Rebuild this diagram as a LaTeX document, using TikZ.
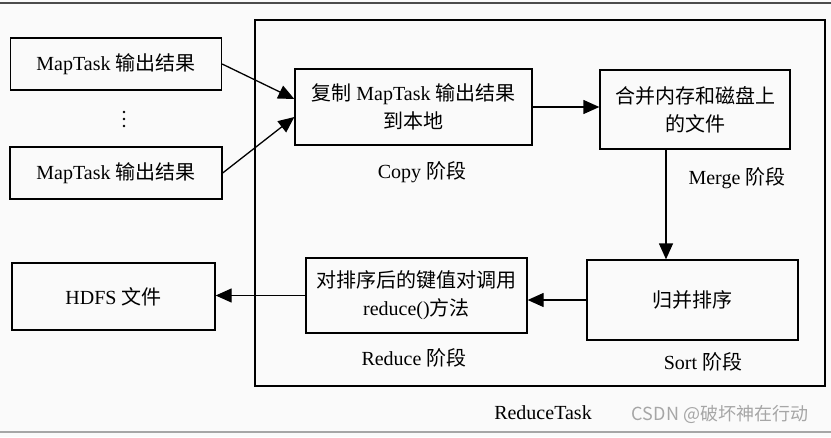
\documentclass[tikz,border=0pt]{standalone}
\usepackage{fontspec}
\setmainfont{Liberation Serif}
\newfontfamily\cjk{Noto Sans CJK SC}
\usetikzlibrary{arrows.meta}
\begin{document}
\begin{tikzpicture}[x=1pt,y=-1pt,
  box/.style={draw, line width=1.3pt, inner sep=0pt, align=center, font=\fontsize{20}{28}\selectfont},
  lbl/.style={font=\fontsize{20}{24}\selectfont, inner sep=0pt},
  arr/.style={line width=1.3pt, -{Triangle[length=16pt,width=14pt]}}]
\useasboundingbox (0,0) rectangle (831,437);
\fill[gray!4] (0,0) rectangle (831,437);
\draw[gray!60!black, line width=2pt] (0,3) -- (831,3);
\draw[gray!70, line width=1.5pt] (0,432) -- (831,432);
% outer ReduceTask box
\node[draw, line width=1.3pt, minimum width=570pt, minimum height=366pt, inner sep=0pt] (rt) at (540,203) {};
% nodes
\node[box, minimum width=211pt, minimum height=52pt] (m1) at (116,64) {MapTask {\cjk 输出结果}};
\node[box, minimum width=212pt, minimum height=52pt] (m2) at (116,173) {MapTask {\cjk 输出结果}};
\foreach \yy in {112,119,126} \fill (124,\yy) circle (1.3pt);
\node[box, minimum width=237pt, minimum height=76pt] (copy) at (413.5,107) {{\cjk 复制} MapTask {\cjk 输出结果}\\{\cjk 到本地}};
\node[box, minimum width=190pt, minimum height=79pt] (merge) at (695,109.5) {{\cjk 合并内存和磁盘上}\\{\cjk 的文件}};
\node[box, minimum width=211pt, minimum height=80pt] (sort) at (692.5,300) {{\cjk 归并排序}};
\node[box, minimum width=221pt, minimum height=75pt] (reduce) at (416.5,295.5) {{\cjk 对排序后的键值对调用}\\reduce(){\cjk 方法}};
\node[box, minimum width=203pt, minimum height=67pt] (hdfs) at (113.5,296.5) {HDFS {\cjk 文件}};
% labels
\node[lbl] (lcopy) at (422,172) {Copy {\cjk 阶段}};
\node[lbl] (lmerge) at (737,178) {Merge {\cjk 阶段}};
\node[lbl] (lreduce) at (414,358) {Reduce {\cjk 阶段}};
\node[lbl] (lsort) at (703,362) {Sort {\cjk 阶段}};
\node[lbl] (lrt) at (543,413) {ReduceTask};
\node[lbl, text=gray!70, font=\cjk\fontsize{18}{22}\selectfont] (wm) at (720,414) {CSDN @破坏神在行动};
% arrows
\draw[arr] (m1.east) -- ([yshift=8pt]copy.west);
\draw[arr] (m2.east) -- ([yshift=-10pt]copy.west);
\draw[arr] (copy.east) -- (copy.east -| merge.west);
\draw[arr] ([xshift=-29pt]merge.south) -- ([xshift=-29pt]merge.south |- sort.north);
\draw[arr] (sort.west) -- (sort.west -| reduce.east);
\draw[arr] (reduce.west) -- (reduce.west -| hdfs.east);
\end{tikzpicture}
\end{document}
